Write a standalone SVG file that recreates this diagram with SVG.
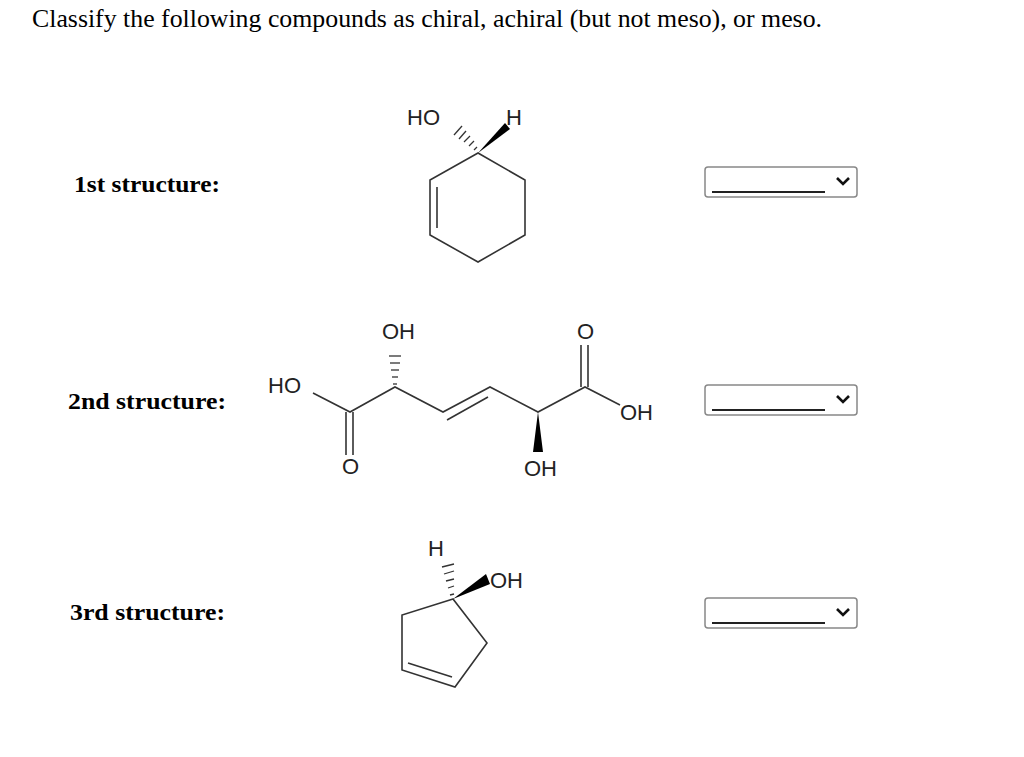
<svg xmlns="http://www.w3.org/2000/svg" width="1024" height="757" viewBox="0 0 1024 757">
<style>
.t{font-family:"Liberation Serif",serif;font-size:25px;fill:#000}
.l{font-family:"Liberation Serif",serif;font-size:23px;font-weight:bold;fill:#000}
.a{font-family:"Liberation Sans",Arial,sans-serif;font-size:22px;fill:#222}
.b{stroke:#333;stroke-width:1.6;fill:none}
.h{stroke:#333;stroke-width:1.3}
.box{fill:#fff;stroke:#888;stroke-width:1.5}
.ul{stroke:#222;stroke-width:2}
.chev{fill:none;stroke:#111;stroke-width:2.6}
</style>
<rect width="1024" height="757" fill="#fff"/>
<text class="t" x="32" y="27" textLength="790" lengthAdjust="spacingAndGlyphs">Classify the following compounds as chiral, achiral (but not meso), or meso.</text>
<text class="l" x="74" y="192" textLength="146" lengthAdjust="spacingAndGlyphs">1st structure:</text>
<text class="l" x="68" y="409" textLength="158" lengthAdjust="spacingAndGlyphs">2nd structure:</text>
<text class="l" x="70" y="620" textLength="155" lengthAdjust="spacingAndGlyphs">3rd structure:</text>
<g id="s1">
<path class="b" d="M478,153 L430,180 L430,235 L478,262 L525,235 L525,180 Z"/>
<line class="b" x1="437" y1="187" x2="437" y2="228"/>
<polygon points="478,153 505,123 510,129" fill="#000"/>
<g class="h">
<line x1="474" y1="150" x2="477" y2="147"/><line x1="469" y1="146" x2="474" y2="141"/><line x1="464" y1="142" x2="470" y2="136"/><line x1="459" y1="139" x2="466" y2="131"/><line x1="454" y1="135" x2="462" y2="126"/>
</g>
<text class="a" x="407" y="125">HO</text>
<text class="a" x="506" y="125">H</text>
</g>
<g id="s2">
<path class="b" d="M313,393 L350,412 L395,387 L443,412 L490,387 L538,412 L585,387 L620,405"/>
<line class="b" x1="346" y1="412" x2="346" y2="455"/><line class="b" x1="353" y1="412" x2="353" y2="455"/>
<line class="b" x1="581" y1="387" x2="581" y2="345"/><line class="b" x1="588" y1="387" x2="588" y2="345"/>
<line class="b" x1="447" y1="420" x2="488" y2="397"/>
<g class="h">
<line x1="393" y1="384" x2="397" y2="384"/><line x1="392" y1="377" x2="398" y2="377"/><line x1="391" y1="370" x2="399" y2="370"/><line x1="390" y1="363" x2="400" y2="363"/><line x1="389" y1="356" x2="401" y2="356"/>
</g>
<polygon points="538,412 533,452 543,452" fill="#000"/>
<text class="a" x="382" y="339">OH</text>
<text class="a" x="268" y="393">HO</text>
<text class="a" x="342" y="474">O</text>
<text class="a" x="577" y="339">O</text>
<text class="a" x="620" y="420">OH</text>
<text class="a" x="524" y="476">OH</text>
</g>
<g id="s3">
<path class="b" d="M453,599 L402,615 L402,670 L455,687 L487,643 Z"/>
<line class="b" x1="408" y1="663" x2="452" y2="677"/>
<polygon points="453,599 486,574 490,584" fill="#000"/>
<g class="h">
<line x1="450" y1="595" x2="454" y2="594"/><line x1="448" y1="588" x2="454" y2="586"/><line x1="446" y1="581" x2="454" y2="579"/><line x1="444" y1="574" x2="454" y2="571"/><line x1="442" y1="567" x2="454" y2="564"/>
</g>
<text class="a" x="428" y="556">H</text>
<text class="a" x="490" y="588">OH</text>
</g>
<g id="dd1"><rect class="box" x="705" y="167" width="152" height="30" rx="3"/><line class="ul" x1="712" y1="192" x2="825" y2="192"/><path class="chev" d="M837,178 L843,184 L849,178"/></g>
<g id="dd2"><rect class="box" x="705" y="385" width="152" height="30" rx="3"/><line class="ul" x1="712" y1="410" x2="825" y2="410"/><path class="chev" d="M837,396 L843,402 L849,396"/></g>
<g id="dd3"><rect class="box" x="705" y="598" width="152" height="30" rx="3"/><line class="ul" x1="712" y1="623" x2="825" y2="623"/><path class="chev" d="M837,609 L843,615 L849,609"/></g>
</svg>
